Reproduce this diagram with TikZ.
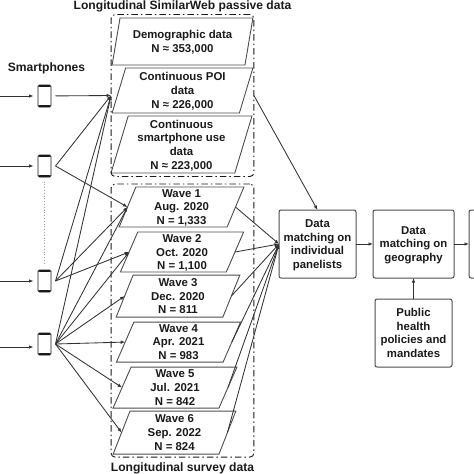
\documentclass[tikz,border=0pt]{standalone}
\usepackage{fontspec}
\setmainfont{Liberation Sans}
\usepackage{xcolor}
\usepackage{tikz}
\usetikzlibrary{arrows.meta,positioning,shapes.geometric,fit}
\definecolor{flowink}{HTML}{1A1A1A}
\definecolor{flowline}{HTML}{333333}
\definecolor{flowedge}{HTML}{4D4D4D}
\definecolor{flowdots}{HTML}{999999}
\tikzset{
  labeltext/.style={font=\fontsize{11.4}{13.7}\selectfont\bfseries, text=flowink, align=center},
  titletext/.style={font=\fontsize{12.1}{14}\selectfont\bfseries, text=flowink, inner sep=0pt},
  datanode/.style={labeltext, text depth=0pt, trapezium, trapezium left angle=74, trapezium right angle=106, trapezium stretches=true, draw=flowedge, line width=0.9pt, inner sep=0pt, outer sep=0pt},
  matchnode/.style={labeltext, text depth=0pt, rectangle, rounded corners=2pt, draw=flowedge, line width=1pt, minimum height=68pt, inner sep=0pt, outer sep=0pt},
  groupnode/.style={rectangle, rounded corners=4pt, draw=flowink, line width=0.9pt, dash pattern=on 6.5pt off 3pt on 1.5pt off 3pt, outer sep=0pt},
  phonenode/.style={rectangle, rounded corners=1.5pt, draw=flowink, line width=0.9pt, minimum width=13pt, minimum height=22pt, inner sep=0pt, outer sep=4.5pt,
    path picture={
      \fill[flowink] (path picture bounding box.north west) rectangle ([yshift=-1.8pt]path picture bounding box.north east);
      \fill[flowink] (path picture bounding box.south west) rectangle ([yshift=1.8pt]path picture bounding box.south east);
    }},
  edge/.style={-{Latex[length=4.5pt,width=3.6pt]}, line width=0.85pt, draw=flowline}
}
\begin{document}
\begin{tikzpicture}[x=1pt, y=-1pt]
  \path[use as bounding box, clip] (0,0) rectangle (474,474);
  \node[phonenode] (phone1) at (44.5,96) {};
  \node[phonenode, below=39pt of phone1] (phone2) {};
  \node[phonenode, below=84pt of phone2] (phone3) {};
  \node[phonenode, below=32pt of phone3] (phone4) {};
  \node[titletext, above=6pt of phone1, xshift=2pt] (phonetitle) {Smartphones};
  \coordinate (feed1) at (0,96);
  \coordinate (feed2) at (0,166);
  \coordinate (feed3) at (0,281);
  \coordinate (feed4) at (0,347);
  \node[datanode, minimum width=141pt, minimum height=47pt] (demo) at (182.5,41.5) {Demographic data\\N ≈ 353,000};
  \node[datanode, minimum width=141pt, minimum height=45pt, below=3pt of demo] (poi) {Continuous POI\\data\\N ≈ 226,000};
  \node[datanode, minimum width=141pt, minimum height=57pt, below=3pt of poi, xshift=-1pt] (usage) {Continuous\\smartphone use\\data\\N ≈ 223,000};
  \node[datanode, minimum width=125pt, minimum height=40pt, below=14pt of usage] (wave1) {Wave 1\\Aug. 2020\\N = 1,333};
  \node[datanode, minimum width=124pt, minimum height=40pt, below=5pt of wave1, xshift=0.5pt] (wave2) {Wave 2\\Oct. 2020\\N = 1,100};
  \node[datanode, minimum width=124pt, minimum height=42pt, below=3pt of wave2, xshift=-4pt] (wave3) {Wave 3\\Dec. 2020\\N = 811};
  \node[datanode, minimum width=125pt, minimum height=40pt, below=5pt of wave3, xshift=0.5pt] (wave4) {Wave 4\\Apr. 2021\\N = 983};
  \node[datanode, minimum width=124pt, minimum height=41pt, below=5pt of wave4, xshift=-3.5pt] (wave5) {Wave 5\\Jul. 2021\\N = 842};
  \node[datanode, minimum width=123pt, minimum height=43pt, below=3pt of wave5, xshift=-0.5pt] (wave6) {Wave 6\\Sep. 2022\\N = 824};
  \node[groupnode, inner xsep=5pt, inner ysep=3.5pt, fit=(demo)(usage)] (passive) {};
  \node[groupnode, inner xsep=0pt, inner ysep=3pt, fit=(wave1)(wave6)(passive.west |- wave1.north)(passive.east |- wave6.south)] (survey) {};
  \node[titletext, above=2pt of passive] (passivetitle) {Longitudinal SimilarWeb passive data};
  \node[titletext, below=5pt of survey] (surveytitle) {Longitudinal survey data};
  \node[matchnode, minimum width=77pt] (panelists) at (317.5,244) {Data\\matching on\\individual\\panelists};
  \node[matchnode, minimum width=81pt, right=17pt of panelists] (geography) {Data\\matching on\\geography};
  \node[matchnode, minimum width=80pt, right=15pt of geography] (nextstep) {};
  \node[matchnode, minimum width=77pt, below=21pt of geography] (policies) {Public\\health\\policies and\\mandates};
  \draw[edge] (feed1) -- (feed1 -| phone1.west);
  \draw[edge] (feed2) -- (feed2 -| phone2.west);
  \draw[edge] (feed3) -- (feed3 -| phone3.west);
  \draw[edge] (feed4) -- (feed4 -| phone4.west);
  \draw[dotted, line width=0.8pt, draw=flowdots] (phone2) -- (phone3);
  \draw[edge] (phone1) -- (passive.west);
  \draw[edge] (phone2.east) -- (passive.west);
  \draw[edge] (phone3.east) -- (passive.west);
  \draw[edge] (phone4.east) -- (passive.west);
  \draw[edge] (phone2.east) -- (wave1.west);
  \draw[edge] (phone3.east) -- (wave1.west);
  \draw[edge] (phone4.east) -- (wave1.west);
  \draw[edge] (phone3.east) -- (wave2.west);
  \draw[edge] (phone4.east) -- (wave2.west);
  \draw[edge] (phone4.east) -- (wave3.west);
  \draw[edge] (phone4.east) -- (wave4.west);
  \draw[edge] (phone4.east) -- (wave5.west);
  \draw[edge] (phone4.east) -- (wave6.west);
  \draw[edge] (passive.east) -- (panelists.north);
  \draw[edge] (wave1.east) -- (panelists.west);
  \draw[edge] (wave2.east) -- (panelists.west);
  \draw[edge] (wave3.east) -- (panelists.west);
  \draw[edge] (wave4.east) -- (panelists.west);
  \draw[edge] (wave5.east) -- (panelists.west);
  \draw[edge] (wave6.east) -- (panelists.west);
  \draw[edge] (panelists) -- (geography);
  \draw[edge] (geography) -- (nextstep);
  \draw[edge] (policies) -- (geography);
\end{tikzpicture}
\end{document}
